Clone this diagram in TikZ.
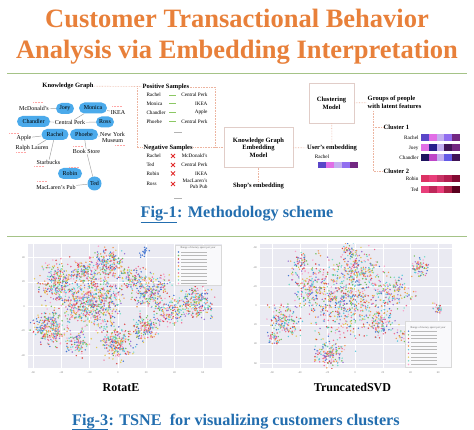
\documentclass[tikz,border=0pt]{standalone}
\usepackage{fontspec}
\setmainfont{Liberation Serif}
\usetikzlibrary{positioning}

\definecolor{titleorange}{RGB}{232,128,58}
\definecolor{rulegreen}{RGB}{165,195,135}
\definecolor{kgblue}{RGB}{75,170,235}
\definecolor{linkc}{RGB}{236,180,160}
\definecolor{boxedge}{RGB}{225,205,200}
\definecolor{posgreen}{RGB}{140,200,100}
\definecolor{xred}{RGB}{225,45,45}
\definecolor{capblue}{RGB}{35,110,175}
\definecolor{plotbg}{RGB}{234,234,242}
% embedding cells
\definecolor{ebv}{RGB}{90,70,200}
\definecolor{epk}{RGB}{225,110,230}
\definecolor{elv}{RGB}{195,175,240}
\definecolor{evi}{RGB}{145,110,240}
\definecolor{edp}{RGB}{115,40,130}
\definecolor{enb}{RGB}{40,30,140}
\definecolor{evd}{RGB}{65,20,85}
\definecolor{edn}{RGB}{30,20,95}
\definecolor{emg}{RGB}{190,70,200}
\definecolor{ebl}{RGB}{100,90,230}
\definecolor{er1}{RGB}{220,50,100}
\definecolor{er2}{RGB}{232,62,122}
\definecolor{er3}{RGB}{200,50,100}
\definecolor{er4}{RGB}{180,30,80}
\definecolor{er5}{RGB}{130,10,50}
\definecolor{er6}{RGB}{190,40,90}
\definecolor{er7}{RGB}{90,0,30}
\definecolor{er8}{RGB}{170,30,70}
% scatter palette
\definecolor{dc0}{RGB}{240,110,150}
\definecolor{dc1}{RGB}{90,200,220}
\definecolor{dc2}{RGB}{240,150,80}
\definecolor{dc3}{RGB}{110,190,90}
\definecolor{dc4}{RGB}{220,70,70}
\definecolor{dc5}{RGB}{150,110,210}
\definecolor{dc6}{RGB}{70,120,210}
\definecolor{dc7}{RGB}{225,200,80}
\definecolor{dc8}{RGB}{120,220,200}
\definecolor{dc9}{RGB}{250,160,200}

\newcommand\fsz[1]{\fontsize{#1}{#1}\selectfont}

\tikzset{
  kgnode/.style={fill=kgblue, rounded corners=5.5, minimum height=11, inner sep=1pt, font=\fsz{6}},
  kglbl/.style={inner sep=0.5pt, font=\fsz{6}, align=center},
  kgedge/.style={draw=gray!75, line width=0.45},
  boldlbl/.style={inner sep=0.5pt, font=\fontsize{6.5}{8}\selectfont\bfseries},
  sample/.style={inner sep=0.3pt, font=\fontsize{5.2}{6}\selectfont},
  link/.style={draw=linkc, densely dotted, line width=0.6},
  modelbox/.style={draw=boxedge, fill=white, line width=0.8, align=center, font=\fontsize{6.5}{7.6}\selectfont\bfseries},
  ticklbl/.style={inner sep=0pt, font=\fsz{2.8}, text=gray},
  caption/.style={text=capblue, font=\fsz{16.2}\bfseries, inner sep=0pt},
  figline/.style={draw=capblue, line width=1},
}

\begin{document}
\begin{tikzpicture}[x=1pt,y=-1pt]
\useasboundingbox[fill=white] (0,0) rectangle (474,430);

\node[text=titleorange, align=center, font=\fontsize{26.5}{31}\selectfont\bfseries] (title) at (237,36.5)
  {Customer Transactional Behavior\\Analysis via Embedding Interpretation};
\draw[rulegreen, line width=1] (7,73.5) -- (467,73.5);

% knowledge graph
\node[boldlbl] (kg) at (68,86) {Knowledge Graph};
\foreach \name/\px/\py/\w in {Joey/65/108.5/18, Monica/93/108/28, Chandler/33.5/121.5/33, Ross/105/122/18,
    Rachel/55/134.5/27, Phoebe/84/134.5/28, Robin/70/173.5/24}
  \node[kgnode, minimum width=\w] (\name) at (\px,\py) {\name};
\node[kgnode, circle, minimum size=14, inner sep=0pt] (Ted) at (94.5,183.5) {Ted};
\foreach \id/\txt/\px/\py in {mcd/McDonald's/34/108, ikea/IKEA/118/112.5, perk/Central Perk/70/122.5,
    apple/Apple/24/138, ralph/Ralph Lauren/32/148.5, book/Book Store/86.5/151.5, starb/Starbucks/48.5/162.5,
    mac/MacLaren's Pub/56/187.5, nym/{New York\\Museum}/112.5/137.5}
  \node[kglbl] (\id) at (\px,\py) {\txt};
\foreach \a/\b in {Joey/mcd, Monica/perk, Monica/ikea, Chandler/perk, Ross/perk, Rachel/apple, Rachel/ralph,
    Rachel/starb, Phoebe/nym, Phoebe/book, book/Ted, Ted/mac}
  \draw[kgedge] (\a) -- (\b);
\foreach \px/\py in {38/102.5, 117/106.5, 14/133, 21/152.5, 78/146.5, 120/145.5, 39/166.5, 42/181.5, 74/167}
  \draw[red!35, densely dotted, line width=0.5] (\px-5,\py) -- (\px+5,\py);

% positive and negative samples
\node[boldlbl, anchor=west] (pos) at (142,87) {Positive Samples};
\foreach \who/\what/\py [count=\i] in {Rachel/Central Perk/95, Monica/IKEA/103.5, Chandler/Apple/112.5, Phoebe/Central Perk/121.5}{
  \node[sample, anchor=west] (pos-\i) at (146,\py) {\who};
  \node[sample, anchor=east] (pos-t-\i) at (208,\py) {\what};
  \draw[posgreen, line width=0.8] (169,\py) -- (176,\py);
}
\draw[gray!60, line width=0.6] (174,132) -- (182,132);
\node[boldlbl, anchor=west] (neg) at (143,147.5) {Negative Samples};
\foreach \who/\what/\py [count=\i] in {Rachel/McDonald's/156, Ted/Central Perk/165, Robin/IKEA/173.5, Ross/{MacLaren's\\Pub Pub}/184}{
  \node[sample, anchor=west] (neg-\i) at (146,\py) {\who};
  \node[sample, anchor=east, align=right] (neg-t-\i) at (208,\py) {\what};
  \draw[xred, line width=0.9] (173,\py) +(-2,-2) -- +(2,2) +(-2,2) -- +(2,-2);
}
\draw[gray!60, line width=0.6] (174,198) -- (182,198);

% models
\node[modelbox, minimum width=69, minimum height=40] (kge) at (258.5,147.5) {Knowledge Graph\\Embedding\\Model};
\node[boldlbl, below=14pt of kge] (shop) {Shop's embedding};
\node[modelbox, minimum width=45, minimum height=40] (clu) at (331.5,103) {Clustering\\Model};
\node[boldlbl] (user) at (332,148) {User's embedding};
\node[boldlbl, anchor=west, align=left] (groups) at (367,102.5) {Groups of people\\with latent features};
\node[boldlbl, anchor=west] (c1) at (383,127.5) {Cluster 1};
\node[boldlbl, anchor=west] (c2) at (383,171) {Cluster 2};

\draw[link] (kg) -- (137,86.5) -- (pos);
\draw[link] (137,86.5) -- (137,147.5) -- (neg);
\draw[link] (pos) -- (215,87) -- (215,147.5) -- (kge);
\draw[link] (neg) -- (215,147.5);
\draw[link] (kge) -- (shop);
\draw[link] (kge) -- (user);
\draw[link] (clu) -- (user);
\draw[link] (clu) -- (groups);
\draw[link] (373,111) -- (373,171) -- (c2);
\draw[link] (373,127.5) -- (c1);

% embeddings
\node[sample] (user-r) at (322,157) {Rachel};
\foreach \col [count=\k] in {ebv,epk,elv,evi,edp}
  \fill[\col] ({310+\k*8},162) rectangle +(8,6.5);
\foreach \who/\py/\cols in {Rachel/137.5/{ebv,epk,elv,evi,edp}, Joey/148/{epk,enb,elv,evd,edp},
    Chandler/158/{edn,emg,elv,ebl,evd}, Robin/179/{er1,er2,er3,er4,er5}, Ted/189.5/{er2,er6,er2,er8,er7}}{
  \node[sample, anchor=east] (emb-\who) at (419,\py) {\who};
  \foreach \col [count=\k] in \cols
    \fill[\col] ({413.2+\k*7.8},\py-3.5) rectangle +(7.8,7);
}

\node[caption, anchor=base west] (fig1) at (140.5,218) {Fig-1};
\node[caption, anchor=base west] (fig1-t) at (fig1.base east) {: Methodology scheme};
\draw[figline] (fig1.south west) ++(0,0.6) -- ([yshift=-0.6]fig1.south east);
\draw[rulegreen, line width=1] (7,236.5) -- (467,236.5);

% tsne plots
\fill[plotbg] (28,244) rectangle (222,368);
\fill[plotbg] (260,244) rectangle (452,368);
\foreach \v [count=\i] in {-60,-40,-20,0,20,40,60}{
  \draw[white, line width=0.4] ({33+(\i-1)*28.3},244) -- +(0,124);
  \node[ticklbl] at ({33+(\i-1)*28.3},372.5) {\v};
  \draw[white, line width=0.4] ({272+(\i-1)*27.7},244) -- +(0,124);
  \node[ticklbl] at ({272+(\i-1)*27.7},372.5) {\v};
  \draw[white, line width=0.4] (260,{248+(\i-1)*19.2}) -- +(192,0);
  \node[ticklbl, anchor=east] at (257,{248+(\i-1)*19.2}) {\v};
}
\foreach \v [count=\i] in {40,20,0,-20,-40}{
  \draw[white, line width=0.4] (28,{257.5+(\i-1)*24.5}) -- +(194,0);
  \node[ticklbl, anchor=east] at (25,{257.5+(\i-1)*24.5}) {\v};
}
\pgfmathsetseed{42}
\begin{scope}
  \clip (28,244) rectangle (222,368);
  \foreach \cx/\cy/\r/\n in {58/282/19/280, 108/263/15/200, 85/273/13/140, 50/327/17/260, 98/302/24/460,
      117/343/15/230, 150/292/18/280, 195/303/16/240, 145/328/12/150, 77/343/12/110, 170/314/12/110,
      130/276/11/90, 76/305/13/130}
    \foreach \k [evaluate={\ux=\cx+\r*(rand+rand+rand)/2; \uy=\cy+\r*(rand+rand+rand)/2; \q=int(9.99*rnd);}] in {1,...,\n}
      \fill[dc\q] (\ux,\uy) circle (0.8);
  \foreach \k [evaluate={\ux=145+4*(rand+rand); \uy=253+4*(rand+rand);}] in {1,...,16}
    \fill[dc6] (\ux,\uy) circle (0.85);
\end{scope}
\begin{scope}
  \clip (260,244) rectangle (452,368);
  \foreach \cx/\cy/\r/\n in {345/300/38/600, 360/272/19/160, 310/285/17/130, 395/292/17/140, 285/320/15/160,
      330/355/13/160, 380/322/12/110, 420/266/9/75, 438/309/5/28, 274/338/6/38, 300/262/10/55, 405/335/8/50,
      350/252/8/45}
    \foreach \k [evaluate={\ux=\cx+\r*(rand+rand+rand)/2; \uy=\cy+\r*(rand+rand+rand)/2; \q=int(9.99*rnd);}] in {1,...,\n}
      \fill[dc\q] (\ux,\uy) circle (0.8);
\end{scope}

% legends
\filldraw[fill=white!70!plotbg, draw=gray!30, line width=0.3] (175,245) rectangle (221,285);
\node[ticklbl, text=gray!80!black] (leg1) at (198,248) {Range of money spent per year};
\foreach \q [count=\i] in {6,3,4,5,2,1,0,7,8,9}{
  \fill[dc\q] (178.5,{248.5+\i*3.5}) circle (0.8);
  \draw[gray!55, line width=0.7] (181,{248.5+\i*3.5}) -- (207,{248.5+\i*3.5});
}
\filldraw[fill=white!70!plotbg, draw=gray!30, line width=0.3] (405,321) rectangle (451,367);
\node[ticklbl, text=gray!80!black] (leg2) at (428,327.5) {Range of money spent per year};
\foreach \q [count=\i] in {6,3,4,5,2,1,0,7,8,9}{
  \fill[dc\q] (408.5,{327.5+\i*3.7}) circle (0.8);
  \draw[gray!55, line width=0.7] (411,{327.5+\i*3.7}) -- (437,{327.5+\i*3.7});
}

\node[font=\fsz{12}\bfseries, inner sep=0pt] (rotate) at (121,387.5) {RotatE};
\node[font=\fsz{12}\bfseries, inner sep=0pt] (svd) at (352.5,387.5) {TruncatedSVD};
\node[caption, anchor=base west] (fig3) at (72,425) {Fig-3};
\node[caption, anchor=base west] (fig3-t) at (fig3.base east) {: TSNE~ for visualizing customers clusters};
\draw[figline] (fig3.south west) ++(0,0.6) -- ([yshift=-0.6]fig3.south east);
\end{tikzpicture}
\end{document}
